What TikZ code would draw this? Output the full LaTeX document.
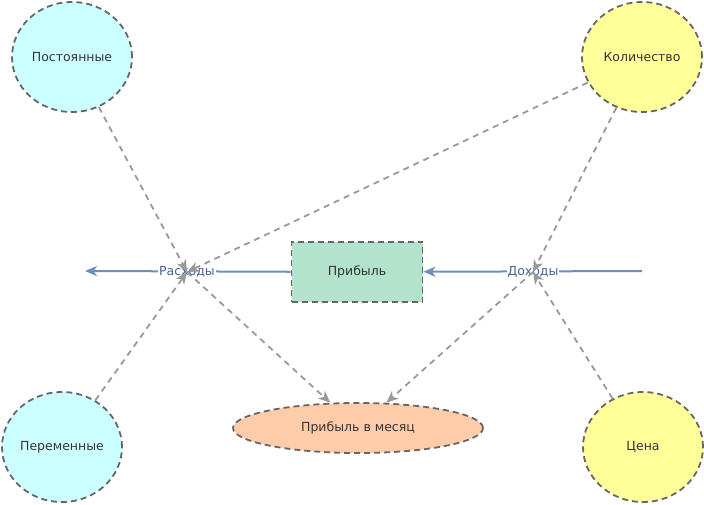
\documentclass[tikz,border=0pt]{standalone}
\usepackage{fontspec}
\setmainfont{DejaVu Sans}
\usepackage{tikz}
\usetikzlibrary{arrows.meta,positioning,shapes.geometric}
\definecolor{fixCyan}{RGB}{204,255,255}
\definecolor{qtyYellow}{RGB}{255,255,153}
\definecolor{profitGreen}{RGB}{179,226,205}
\definecolor{monthPeach}{RGB}{255,204,170}
\definecolor{borderGrey}{RGB}{102,102,102}
\definecolor{linkGrey}{RGB}{153,153,153}
\definecolor{flowBlue}{RGB}{108,142,191}
\definecolor{rateBlue}{RGB}{70,98,152}
\definecolor{textGrey}{RGB}{51,51,51}

\begin{document}
\begin{tikzpicture}[
    x=1pt,y=-1pt,
    font=\fontsize{12.5}{14}\selectfont,
    stock/.style={ellipse,draw=borderGrey,line width=1.8pt,dash pattern=on 6pt off 4pt,minimum width=120pt,minimum height=110pt,inner sep=0pt,text=textGrey},
    flow/.style={-{Stealth[length=12pt,width=10pt,inset=3.5pt]},line width=2pt,flowBlue},
    link/.style={-{Stealth[length=12pt,width=10pt,inset=3.5pt]},line width=1.8pt,linkGrey,dash pattern=on 6pt off 5pt},
    rate/.style={fill=white,inner sep=1pt,text=rateBlue}
  ]
    \useasboundingbox (0,0) rectangle (704,504);
    \node[stock,fill=fixCyan] (post) at (72,57) {Постоянные};
    \node[stock,fill=qtyYellow] (kol) at (642,57) {Количество};
    \node[stock,fill=fixCyan] (perem) at (62,447) {Переменные};
    \node[stock,fill=qtyYellow] (cena) at (643,447) {Цена};
    \node[draw=borderGrey,line width=1.8pt,dash pattern=on 6pt off 4pt,fill=profitGreen,minimum width=131pt,minimum height=60pt,text=textGrey] (prib) at (357,272) {Прибыль};
    \node[ellipse,draw=borderGrey,line width=1.8pt,dash pattern=on 6pt off 4pt,fill=monthPeach,minimum width=250pt,minimum height=50pt,inner sep=0pt,text=textGrey] (mes) at (358,428) {Прибыль в месяц};
    \coordinate (src) at (642,271);
    \coordinate (sink) at (85,271);
    \draw[flow] (src) -- (prib);
    \draw[flow] (prib) -- (sink);
    \node[rate] (doh) at (533,272) {Доходы};
    \node[rate] (rash) at (187,272) {Расходы};
    % dashed influences
    \draw[link] (post) -- (rash.center);
    \draw[link] (perem) -- (rash.center);
    \draw[link] (kol) -- (rash.center);
    \draw[link] (kol) -- (doh.center);
    \draw[link] (cena) -- (doh.center);
    \draw[link] (rash.center) -- (mes);
    \draw[link] (doh.center) -- (mes);
  \end{tikzpicture}
\end{document}
